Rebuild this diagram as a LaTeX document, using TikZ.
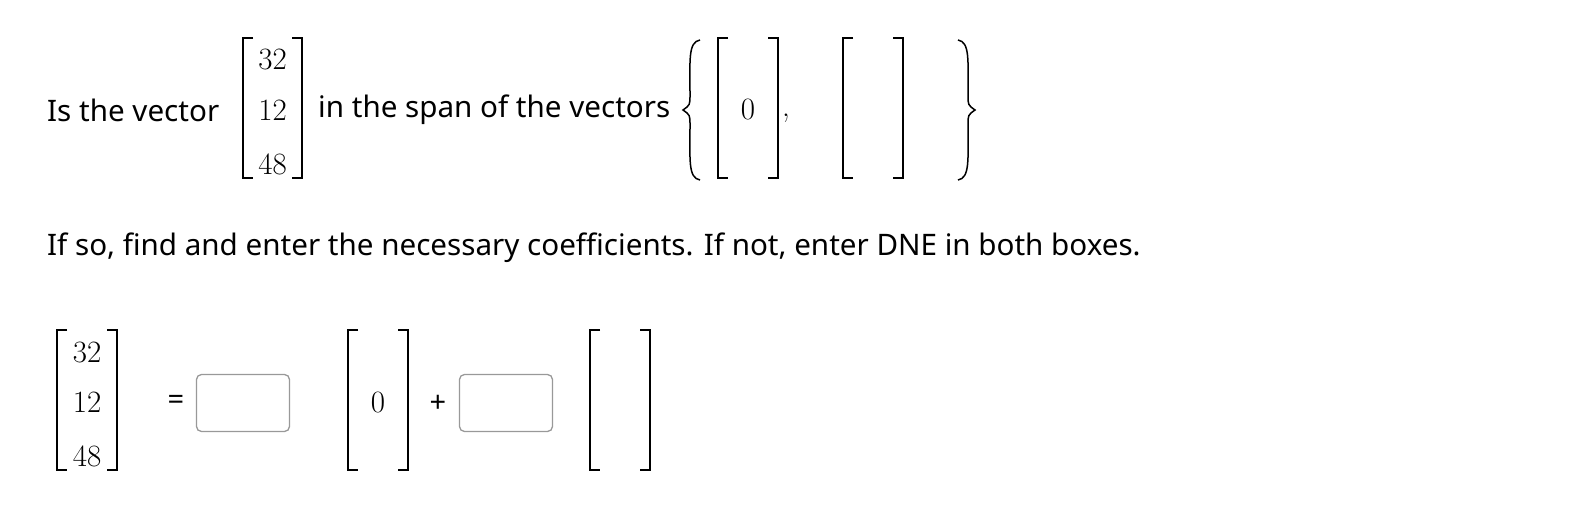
\documentclass[tikz,border=0pt]{standalone}
\usepackage{fontspec}
\setmainfont{Latin Modern Roman}
\newfontfamily\uisans{Noto Sans}
\newcommand\mns{\char"2212}
\begin{document}
\begin{tikzpicture}[x=1pt,y=-1pt,
  lbl/.style={font=\uisans\fontsize{29.6}{34}\selectfont,anchor=west,inner sep=0},
  ent/.style={font=\fontsize{31}{36}\selectfont,inner sep=0},
  brk/.style={line width=2pt},
  ansbox/.style={draw=gray!80,line width=1.3pt,rounded corners=5pt,fill=white}]
\useasboundingbox (0,0) rectangle (1576,508);
\newcommand\bmat[6]{% #1 left x, #2 right x, #3 top y, #4..#6 entries
  \draw[brk] ([xshift=10]#1,#3) -- (#1,#3) -- (#1,#3+140) -- ([xshift=10]#1,#3+140);
  \draw[brk] ([xshift=-10]#2,#3) -- (#2,#3) -- (#2,#3+140) -- ([xshift=-10]#2,#3+140);
  \node[ent] at ({(#1+#2)/2},#3+22) {#4};
  \node[ent] at ({(#1+#2)/2},#3+72) {#5};
  \node[ent] at ({(#1+#2)/2},#3+126) {#6};}
\node[lbl] (q1) at (47,110) {Is the vector};
\bmat{243}{302}{38}{32}{12}{48}
\node[lbl] (q2) at (318,110) {in the span of the vectors};
\draw[line width=1.5pt] (700,40) .. controls (688,42) and (690,60) .. (690,95) .. controls (690,105) .. (683,110) .. controls (690,115) .. (690,125) .. controls (690,160) and (688,178) .. (700,180);
\bmat{718}{778}{38}{\mns4}{0}{\mns6}
\node[ent] (cm) at (786,118) {,};
\bmat{843}{903}{38}{\mns4}{\mns4}{\mns6}
\draw[line width=1.5pt] (958,40) .. controls (970,42) and (968,60) .. (968,95) .. controls (968,105) .. (975,110) .. controls (968,115) .. (968,125) .. controls (968,160) and (970,178) .. (958,180);
\node[lbl] (q3) at (47,248) {If so, find and enter the necessary coefficients. If not, enter DNE in both boxes.};
\bmat{57}{117}{330}{32}{12}{48}
\node[font=\uisans\fontsize{29}{34}\selectfont] (eq) at (176,402) {=};
\node[ansbox,minimum width=93pt,minimum height=57pt] (b1) at (243,403) {};
\bmat{348}{408}{330}{\mns4}{0}{\mns6}
\node[font=\uisans\fontsize{29}{34}\selectfont] (pl) at (438,404) {+};
\node[ansbox,minimum width=93pt,minimum height=57pt] (b2) at (506,403) {};
\bmat{590}{650}{330}{\mns4}{\mns4}{\mns6}
\end{tikzpicture}
\end{document}
